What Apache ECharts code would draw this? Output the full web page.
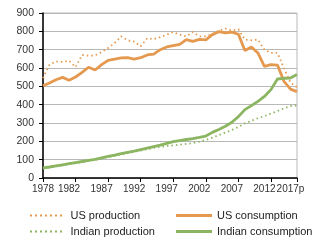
<!DOCTYPE html>
<html><head><meta charset="utf-8">
<script src="https://cdn.jsdelivr.net/npm/echarts@6/dist/echarts.min.js"></script>
<style>html,body{margin:0;padding:0;background:#fff}#c{width:323px;height:245px}</style>
</head><body><div id="c"></div>
<script>
const years = [];
for (let y = 1978; y <= 2017; y++) years.push(String(y));
const tickLabels = ['1978','1982','1987','1992','1997','2002','2007','2012','2017p'];
const usProduction = [545,618,636,633,640,605,671,667,669,687,709,736,773,751,744,718,762,758,768,782,796,782,773,796,773,773,785,804,815,804,811,755,751,755,700,682,682,600,520,495];
const usConsumption = [503,518,536,549,533,551,576,604,589,618,642,649,655,656,649,656,671,676,700,715,722,729,755,745,756,753,782,798,791,796,784,696,715,682,609,618,616,527,485,471];
const indianProduction = [52,57,63,69,75,81,87,93,99,107,114,121,129,136,143,150,157,164,170,175,178,182,186,190,198,208,220,234,248,262,278,298,312,326,338,352,365,380,392,396];
const indianConsumption = [55,60,66,72,78,84,90,96,102,110,118,125,133,140,147,155,163,171,179,189,198,204,210,215,221,229,249,265,282,304,335,373,395,418,445,482,540,544,545,564];

const orange = '#E5994F', green = '#8CB561';
const dotPath = 'path://M0,0h2v2h-2z M5,0h2v2h-2z M10,0h2v2h-2z M15,0h2v2h-2z M20,0h2v2h-2z M25,0h2v2h-2z M30,0h2v2h-2z';
const lastIdx = years.length - 1;
const labelAt = {};
tickLabels.forEach(t => { labelAt[years.indexOf(t.replace('p', ''))] = t; });
// the final label sits slightly left of the axis end in the reference
const lastLabelSlot = lastIdx - 1;

const chart = echarts.init(document.getElementById('c'));
const mk = (name, data, color, dotted) => ({
  name, type: 'line', data, symbol: 'none', smooth: false, xAxisIndex: 0,
  lineStyle: {color, width: dotted ? 1.8 : 2.8, type: dotted ? [1.5, 3] : 'solid'},
  itemStyle: {color}, z: dotted ? 3 : 2
});
const lg = (name, left, top, dotted) => ({
  data: [{name, icon: dotted ? dotPath : 'rect'}], left, top, padding: 0,
  itemWidth: dotted ? 33 : 36, itemHeight: dotted ? 2 : 3, itemGap: 0,
  textStyle: {fontSize: 11, color: '#222', padding: [0, 0, 0, dotted ? 3 : 0]}
});
chart.setOption({
  animation: false,
  textStyle: {fontFamily: 'Liberation Sans, Arial, sans-serif'},
  grid: {left: 43, right: 26, top: 13, bottom: 67, show: true, borderColor: '#b8b8b8', borderWidth: 1},
  xAxis: [{
    type: 'category', data: years, boundaryGap: false,
    axisLine: {lineStyle: {color: '#000', width: 1.5}},
    axisTick: {show: true, interval: (i) => i % 5 === 0 || i === lastIdx, length: 4, lineStyle: {color: '#000'}},
    axisLabel: {
      interval: (i) => labelAt[i] !== undefined && i < lastIdx, color: '#333', fontSize: 10, margin: 6,
      hideOverlap: false, formatter: (v, i) => labelAt[i] || ''
    },
    splitLine: {show: false}
  }, {
    type: 'category', data: years, boundaryGap: false, position: 'bottom', gridIndex: 0,
    axisLine: {show: false}, axisTick: {show: false}, splitLine: {show: false},
    axisLabel: {
      interval: (i) => i === lastLabelSlot, color: '#333', fontSize: 10, margin: 6,
      showMaxLabel: false, showMinLabel: false,
      formatter: (v, i) => i === lastLabelSlot ? labelAt[lastIdx] : ''
    }
  }],
  yAxis: {
    type: 'value', min: 0, max: 900, interval: 100,
    axisLine: {show: true, lineStyle: {color: '#000', width: 1.5}},
    axisTick: {show: true, length: 4, lineStyle: {color: '#000'}},
    axisLabel: {color: '#333', fontSize: 10.5, margin: 9},
    splitLine: {lineStyle: {color: '#b8b8b8', width: 1}}
  },
  legend: [
    lg('US production', 30, 210, true),
    lg('Indian production', 30, 226, true),
    lg('US consumption', 176, 210, false),
    lg('Indian consumption', 176, 226, false)
  ],
  series: [
    mk('US production', usProduction, orange, true),
    mk('US consumption', usConsumption, orange, false),
    mk('Indian production', indianProduction, green, true),
    mk('Indian consumption', indianConsumption, green, false)
  ]
});
</script></body></html>
